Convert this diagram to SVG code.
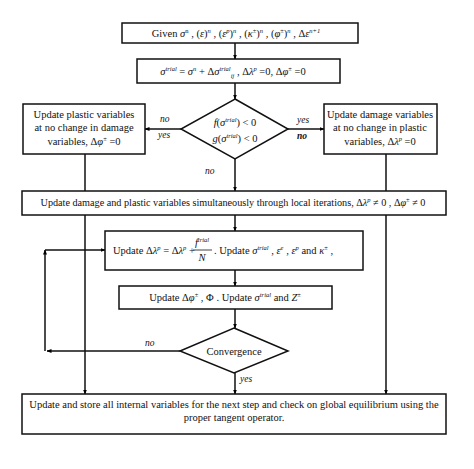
<svg xmlns="http://www.w3.org/2000/svg" width="474" height="469" viewBox="0 0 474 469" font-family="'Liberation Serif', 'Times New Roman', 'DejaVu Serif', serif">
<defs>
<marker id="ah" viewBox="0 0 10 10" refX="9" refY="5" markerWidth="5" markerHeight="5" orient="auto" markerUnits="userSpaceOnUse">
<path d="M0,1 L10,5 L0,9 z" fill="#000"/>
</marker>
</defs>
<style>
.box{fill:#fff;stroke:#111;stroke-width:1.5}
.ln{stroke:#111;stroke-width:1.5;fill:none}
.ar{stroke:#111;stroke-width:1.5;fill:none;marker-end:url(#ah)}
text{font-family:'Liberation Serif','Times New Roman','DejaVu Serif',serif;font-size:10.5px;fill:#111}
.m{font-style:italic}
.sup{font-size:6.5px}
.lb{font-style:italic;font-size:9.5px}
</style>
<rect width="474" height="469" fill="#fff"/>
<g id="connectors">
<line class="ar" x1="235" y1="43" x2="235" y2="59"/>
<line class="ar" x1="235" y1="83" x2="235" y2="99"/>
<line class="ar" x1="181" y1="129" x2="145" y2="129"/>
<line class="ar" x1="288" y1="129" x2="324" y2="129"/>
<line class="ar" x1="235" y1="159" x2="235" y2="191"/>
<line class="ln" x1="85" y1="154" x2="85" y2="191"/>
<line class="ln" x1="386" y1="154" x2="386" y2="191"/>
<line class="ar" x1="235" y1="215" x2="235" y2="231"/>
<line class="ar" x1="85" y1="215" x2="85" y2="394"/>
<line class="ar" x1="386" y1="215" x2="386" y2="394"/>
<line class="ar" x1="235" y1="270" x2="235" y2="286"/>
<line class="ar" x1="235" y1="309" x2="235" y2="328"/>
<line class="ar" x1="180" y1="351" x2="47" y2="351"/>
<line class="ar" x1="45" y1="351" x2="45" y2="250"/>
<line class="ar" x1="45" y1="250" x2="105" y2="250"/>
<line class="ar" x1="235" y1="373" x2="235" y2="394"/>
<text class="lb" x="160" y="122">no</text>
<text class="lb" x="158" y="138">yes</text>
<text class="lb" x="297" y="123">yes</text>
<text class="lb" x="297" y="139" font-weight="bold">no</text>
<text class="lb" x="205" y="174">no</text>
<text class="lb" x="145" y="346">no</text>
<text class="lb" x="240" y="382">yes</text>
</g>
<g id="given">
<rect class="box" x="122" y="23" width="236" height="20"/>
<text x="236" y="37" text-anchor="middle">Given  <tspan class="m">σ</tspan><tspan class="sup" dy="-4">n</tspan><tspan dy="4"> , (</tspan><tspan class="m">ε</tspan>)<tspan class="sup m" dy="-4">n</tspan><tspan dy="4"> , (</tspan><tspan class="m">ε</tspan><tspan class="sup m" dy="-4">p</tspan><tspan dy="4">)</tspan><tspan class="sup m" dy="-4">n</tspan><tspan dy="4"> , (</tspan><tspan class="m">κ</tspan><tspan class="sup" dy="-4">±</tspan><tspan dy="4">)</tspan><tspan class="sup m" dy="-4">n</tspan><tspan dy="4"> , (</tspan><tspan class="m">φ</tspan><tspan class="sup" dy="-4">±</tspan><tspan dy="4">)</tspan><tspan class="sup m" dy="-4">n</tspan><tspan dy="4"> , Δ</tspan><tspan class="m">ε</tspan><tspan class="sup m" dy="-4">n+1</tspan></text>
</g>
<g id="trial">
<rect class="box" x="137" y="59" width="203" height="24"/>
<text x="233" y="75" text-anchor="middle"><tspan class="m">σ</tspan><tspan class="sup m" dy="-4">trial</tspan><tspan dy="4"> = </tspan><tspan class="m">σ</tspan><tspan class="sup m" dy="-4">n</tspan><tspan dy="4"> + Δ</tspan><tspan class="m">σ</tspan><tspan class="sup m" dy="-4">trial</tspan><tspan class="sup m" dy="7">ij</tspan><tspan dy="-3"> , Δ</tspan><tspan class="m">λ</tspan><tspan class="sup m" dy="-4">p</tspan><tspan dy="4"> =0, Δ</tspan><tspan class="m">φ</tspan><tspan class="sup" dy="-4">±</tspan><tspan dy="4"> =0</tspan></text>
</g>
<g id="check">
<polygon class="box" points="235,99 288,129 235,159 181,129"/>
<text x="235" y="126" text-anchor="middle"><tspan class="m">f</tspan>(<tspan class="m">σ</tspan><tspan class="sup m" dy="-4">trial</tspan><tspan dy="4">) &lt; 0</tspan></text>
<text x="235" y="142" text-anchor="middle"><tspan class="m">g</tspan>(<tspan class="m">σ</tspan><tspan class="sup m" dy="-4">trial</tspan><tspan dy="4">) &lt; 0</tspan></text>
</g>
<g id="plastic">
<rect class="box" x="23" y="104" width="122" height="50"/>
<text x="84" y="118" text-anchor="middle">Update plastic variables</text>
<text x="84" y="131" text-anchor="middle">at no change in damage</text>
<text x="84" y="145" text-anchor="middle">variables, Δ<tspan class="m">φ</tspan><tspan class="sup" dy="-4">±</tspan><tspan dy="4"> =0</tspan></text>
</g>
<g id="damage">
<rect class="box" x="324" y="104" width="113" height="50"/>
<text x="380" y="118" text-anchor="middle">Update damage variables</text>
<text x="380" y="131" text-anchor="middle">at no change in plastic</text>
<text x="380" y="145" text-anchor="middle">variables, Δ<tspan class="m">λ</tspan><tspan class="sup m" dy="-4">p</tspan><tspan dy="4"> =0</tspan></text>
</g>
<g id="simultaneous">
<rect class="box" x="22" y="191" width="424" height="24"/>
<text x="233" y="206" text-anchor="middle" style="font-size:10.2px">Update damage and plastic variables simultaneously through local iterations, Δ<tspan class="m">λ</tspan><tspan class="sup m" dy="-4">p</tspan><tspan dy="4"> ≠ 0 , Δ</tspan><tspan class="m">φ</tspan><tspan class="sup" dy="-4">±</tspan><tspan dy="4"> ≠ 0</tspan></text>
</g>
<g id="update-lambda">
<rect class="box" x="105" y="231" width="258" height="39"/>
<text x="113" y="254">Update Δ<tspan class="m">λ</tspan><tspan class="sup m" dy="-4">p</tspan><tspan dy="4"> = Δ</tspan><tspan class="m">λ</tspan><tspan class="sup m" dy="-4">p</tspan><tspan dy="4"> +</tspan></text>
<text x="202" y="246" text-anchor="middle"><tspan class="m">f</tspan><tspan class="sup m" dy="-4">trial</tspan></text>
<line x1="193" y1="250" x2="212" y2="250" stroke="#111" stroke-width="0.8"/>
<text x="202" y="261" text-anchor="middle" class="m">N</text>
<text x="214" y="254">. Update <tspan class="m">σ</tspan><tspan class="sup m" dy="-4">trial</tspan><tspan dy="4"> , </tspan><tspan class="m">ε</tspan><tspan class="sup m" dy="-4">e</tspan><tspan dy="4"> , </tspan><tspan class="m">ε</tspan><tspan class="sup m" dy="-4">p</tspan><tspan dy="4"> and </tspan><tspan class="m">κ</tspan><tspan class="sup" dy="-4">±</tspan><tspan dy="4"> ,</tspan></text>
</g>
<g id="update-phi">
<rect class="box" x="119" y="286" width="213" height="23"/>
<text x="225" y="301" text-anchor="middle">Update Δ<tspan class="m">φ</tspan><tspan class="sup" dy="-4">±</tspan><tspan dy="4"> , Φ . Update </tspan><tspan class="m">σ</tspan><tspan class="sup m" dy="-4">trial</tspan><tspan dy="4"> and </tspan><tspan class="m">Z</tspan><tspan class="sup" dy="-4">±</tspan></text>
</g>
<g id="convergence">
<polygon class="box" points="234,328 288,351 234,373 180,351"/>
<text x="234" y="355" text-anchor="middle">Convergence</text>
</g>
<g id="store">
<rect class="box" x="22" y="394" width="424" height="40"/>
<text x="234" y="408" text-anchor="middle">Update and store all internal variables for the next step and check on global equilibrium using the</text>
<text x="234" y="421" text-anchor="middle">proper tangent operator.</text>
</g>
</svg>
